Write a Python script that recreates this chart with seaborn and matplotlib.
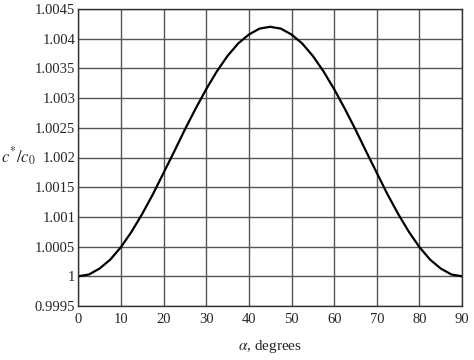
import numpy as np
import pandas as pd
import seaborn as sns
import matplotlib.pyplot as plt

# values
alpha = [0, 2.5, 5, 7.5, 10, 12.5, 15, 17.5, 20, 22.5, 25, 27.5, 30, 32.5, 35, 37.5,
         40, 42.5, 45, 47.5, 50, 52.5, 55, 57.5, 60, 62.5, 65, 67.5, 70, 72.5, 75,
         77.5, 80, 82.5, 85, 87.5, 90]
ratio = [1.0, 1.00003, 1.00013, 1.00028, 1.00049, 1.00075, 1.00105, 1.00138, 1.00174,
         1.0021, 1.00247, 1.00282, 1.00315, 1.00345, 1.00371, 1.00392, 1.00407,
         1.00417, 1.0042, 1.00417, 1.00407, 1.00392, 1.00371, 1.00345, 1.00315,
         1.00282, 1.00247, 1.0021, 1.00174, 1.00138, 1.00105, 1.00075, 1.00049,
         1.00028, 1.00013, 1.00003, 1.0]
xticks = [0, 10, 20, 30, 40, 50, 60, 70, 80, 90]
yticks = [0.9995, 1.0, 1.0005, 1.001, 1.0015, 1.002, 1.0025, 1.003, 1.0035, 1.004, 1.0045]
ytick_labels = ["0.9995", "1", "1.0005", "1.001", "1.0015", "1.002", "1.0025",
                "1.003", "1.0035", "1.004", "1.0045"]

df = pd.DataFrame({"alpha": alpha, "ratio": ratio})

sns.set_style("white")
plt.rcParams['font.family'] = ['Liberation Serif', 'DejaVu Serif']
plt.rcParams['mathtext.fontset'] = 'stix'

fig, ax = plt.subplots(figsize=(4.74, 3.6), dpi=100)
fig.subplots_adjust(left=0.165, right=0.975, bottom=0.15, top=0.975)

sns.lineplot(data=df, x="alpha", y="ratio", color="black", linewidth=1.6, ax=ax)

ax.set_xlim(0, 90)
ax.set_ylim(0.9995, 1.0045)
ax.set_xticks(xticks)
ax.set_yticks(yticks)
ax.set_yticklabels(ytick_labels)
ax.tick_params(labelsize=10.5, length=0)
ax.tick_params(axis="x", pad=5)
ax.tick_params(axis="y", pad=2)
ax.grid(True, color="#555555", linewidth=1.0)
for s in ax.spines.values():
    s.set_color("#333333")
    s.set_linewidth(1.0)

ax.set_xlabel(r"$\alpha$, degrees", fontsize=11, labelpad=9)
ax.set_ylabel(r"$c^{*}/c_0$", fontsize=12, rotation=0)
ax.yaxis.set_label_coords(-0.157, 0.465)

fig.savefig("out.png", dpi=100)
